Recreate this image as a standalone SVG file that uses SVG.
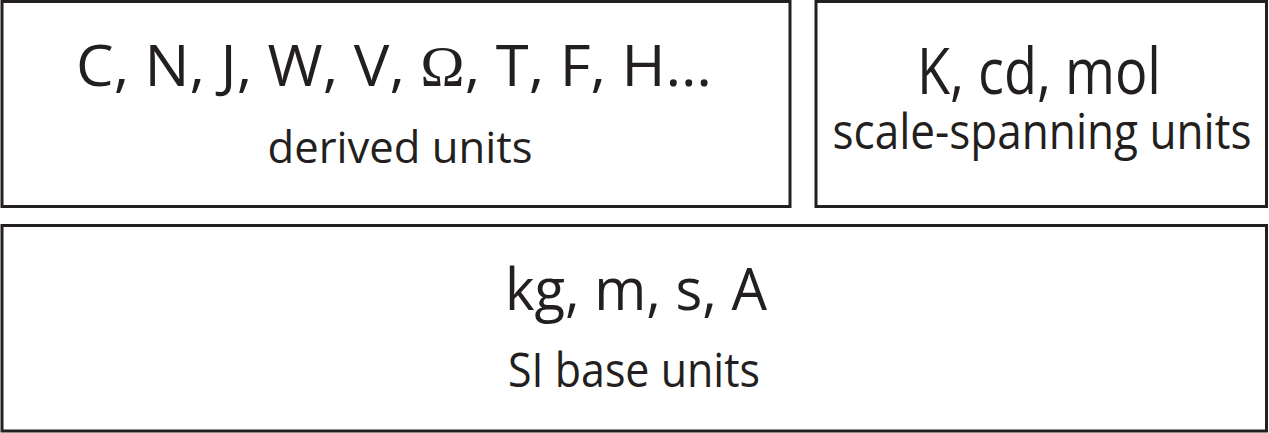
<svg xmlns="http://www.w3.org/2000/svg" width="1269" height="433" viewBox="0 0 1269 433">
<style>
.box{fill:#ffffff;stroke:#231f20;stroke-width:3}
text{font-family:"Open Sans","Noto Sans","Liberation Sans",sans-serif;fill:#231f20;text-anchor:middle}
.serif{font-family:"Liberation Serif","DejaVu Serif",serif}
</style>
<rect x="0" y="0" width="1269" height="433" fill="#ffffff"/>
<g id="derived">
<rect class="box" x="2" y="1.5" width="788" height="205"/>
<text x="394" y="86" font-size="57" textLength="636" lengthAdjust="spacingAndGlyphs">C, N, J, W, V, <tspan class="serif">Ω</tspan>, T, F, H…</text>
<text x="400" y="163" font-size="43" textLength="265" lengthAdjust="spacingAndGlyphs">derived units</text>
</g>
<g id="scale-spanning">
<rect class="box" x="816" y="1.5" width="450.5" height="205"/>
<text x="1039" y="94" font-size="64" textLength="244" lengthAdjust="spacingAndGlyphs">K, cd, mol</text>
<text x="1042" y="149" font-size="49" textLength="419" lengthAdjust="spacingAndGlyphs">scale-spanning units</text>
</g>
<g id="base">
<rect class="box" x="2" y="225.5" width="1264.5" height="205.5"/>
<text x="636" y="310" font-size="59" textLength="262" lengthAdjust="spacingAndGlyphs">kg, m, s, A</text>
<text x="634" y="387" font-size="47" textLength="252" lengthAdjust="spacingAndGlyphs">SI base units</text>
</g>
<g id="connectors"></g>
</svg>
